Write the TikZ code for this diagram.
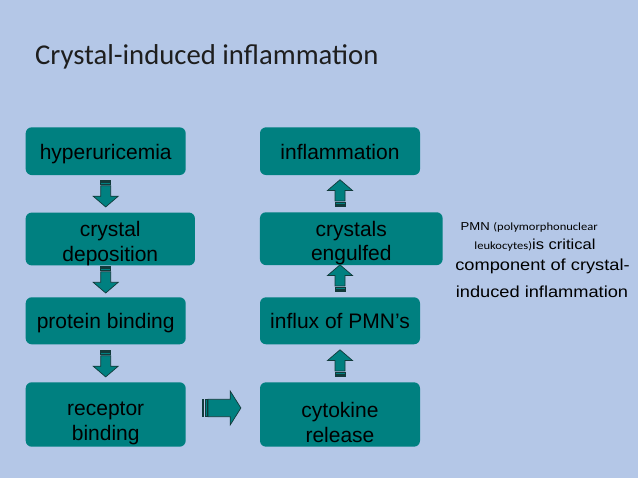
\documentclass[tikz,border=0pt]{standalone}
\usepackage{fontspec}
\setmainfont{Liberation Sans}
\newfontfamily\titlefont{Carlito}
\newfontfamily\notefont[FakeStretch=1.14]{Liberation Sans}
\newfontfamily\notesmall[FakeStretch=1.14]{Carlito}
\usepackage{xcolor}
\usepackage{tikz}
\usetikzlibrary{positioning}

\definecolor{slidebg}{RGB}{180,199,231}
\definecolor{boxteal}{RGB}{0,128,128}
\definecolor{arrowline}{RGB}{18,58,58}
\definecolor{titlegray}{RGB}{30,30,30}

\newcommand{\lowline}[1]{\rule{0pt}{#1}}

\tikzset{
  flowbox/.style={fill=boxteal, rounded corners=6pt, align=center, inner sep=0pt,
    font=\fontsize{21}{24.5}\selectfont},
  oneline/.style={text height=20pt, text depth=4pt},
  arrowpart/.style={fill=boxteal, draw=arrowline, line width=0.7pt, line join=miter},
  notetext/.style={anchor=base, inner sep=0pt},
  % striped block arrow, pointing along +x: length, shaft half width, head half width
  pics/striparrow/.style n args={3}{code={
    \filldraw[arrowpart] (0,-#2) rectangle (1.3,#2);
    \filldraw[arrowpart] (2.4,-#2) rectangle (4.4,#2);
    \filldraw[arrowpart] (5.5,-#2) -- ({#1-10.7},-#2) -- ({#1-10.7},-#3) -- (#1,0)
      -- ({#1-10.7},#3) -- ({#1-10.7},#2) -- (5.5,#2) -- cycle;
  }}
}

\begin{document}
\begin{tikzpicture}[x=1pt, y=1pt]
  % Slide
  \useasboundingbox (0,0) rectangle (638,-478);
  \fill[slidebg] (0,0) rectangle (638,-478);

  % Title
  \node[anchor=base west, inner sep=0pt, text=titlegray, font=\titlefont\fontsize{28.7}{34}\selectfont]
    (title) at (35,-64.3) {Crystal-induced inflammation};

  % Left column
  \node[flowbox, oneline, minimum width=160pt, minimum height=47.7pt] (hyper) at (105.7,-151.2) {hyperuricemia};
  \node[flowbox, minimum width=169.3pt, minimum height=52.6pt] (depo) at (110.3,-239) {\lowline{24pt}crystal\\deposition};
  \node[flowbox, oneline, minimum width=160pt, minimum height=47pt] (prot) at (105.7,-320.8) {protein binding};
  \node[flowbox, minimum width=160pt, minimum height=64.4pt] (recep) at (105.7,-414.5) {\lowline{31pt}receptor\\binding};

  % Right column
  \node[flowbox, oneline, minimum width=160pt, minimum height=47.7pt] (inflam) at (340,-151.2) {inflammation};
  \node[flowbox, minimum width=182.7pt, minimum height=52.7pt] (engulf) at (351.3,-238.7) {\lowline{24pt}crystals\\engulfed};
  \node[flowbox, oneline, minimum width=160pt, minimum height=47pt] (influx) at (340,-320.8) {influx of PMN’s};
  \node[flowbox, minimum width=160pt, minimum height=64.4pt] (cyto) at (340,-414.5) {\lowline{31pt}cytokine\\release};

  % Arrows down
  \pic[rotate=-90] at ([yshift=-5pt]hyper.south) {striparrow={26.7}{5}{12.5}};
  \pic[rotate=-90] at ([yshift=-0.7pt]hyper.south |- depo.south) {striparrow={26.7}{5}{12.5}};
  \pic[rotate=-90] at ([yshift=-5.7pt]prot.south) {striparrow={26.7}{5}{12.5}};

  % Arrow across
  \pic at ([xshift=16.6pt,yshift=6.5pt]recep.east) {striparrow={38.4}{8.7}{17}};

  % Arrows up
  \pic[rotate=90] at ([yshift=5.6pt]inflam.south |- engulf.north) {striparrow={26.7}{5}{12.5}};
  \pic[rotate=90] at ([yshift=5.6pt]influx.north) {striparrow={26.7}{5}{12.5}};
  \pic[rotate=90] at ([yshift=5.6pt]cyto.north) {striparrow={26.7}{5}{12.5}};

  % Note
  \node[notetext] (note1) at (529.2,-230.7)
    {\notefont\fontsize{11.5}{14}\selectfont PMN \notesmall\fontsize{11}{13}\selectfont(polymorphonuclear};
  \node[notetext] (note2) at (535,-250)
    {\notesmall\fontsize{11}{13}\selectfont leukocytes)\notefont\fontsize{14.5}{17}\selectfont is critical};
  \node[notetext] (note3) at (542.5,-270.7)
    {\notefont\fontsize{16}{19}\selectfont component of crystal-};
  \node[notetext] (note4) at (542,-297.3)
    {\notefont\fontsize{16}{19}\selectfont induced inflammation};
\end{tikzpicture}
\end{document}
